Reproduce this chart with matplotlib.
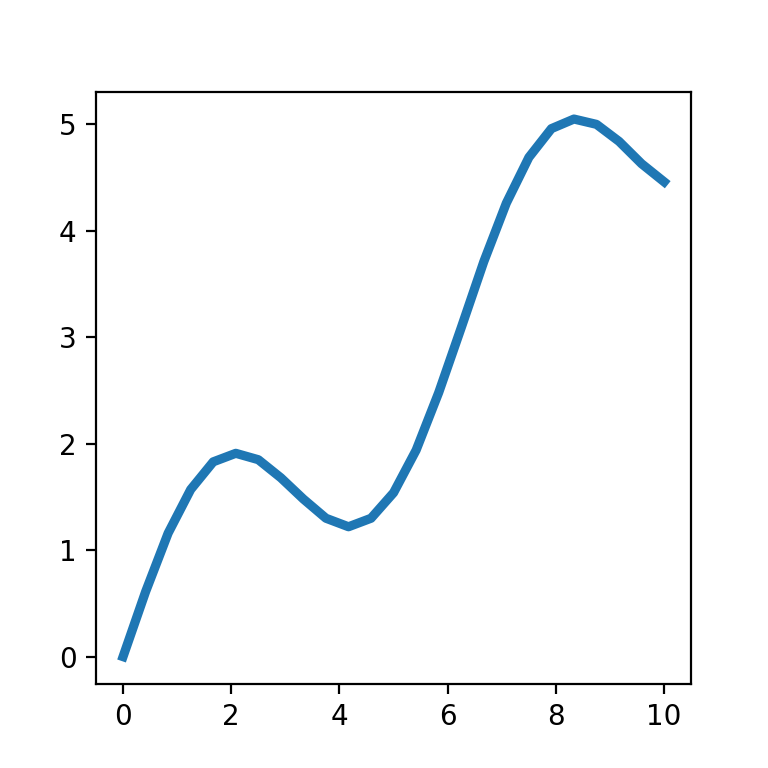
import numpy as np
import matplotlib
matplotlib.use("Agg")
import matplotlib.pyplot as plt

# values
x = np.linspace(0, 10, 25)
y = [0.0, 0.61, 1.16, 1.57, 1.83, 1.91, 1.85, 1.68, 1.48, 1.30,
     1.22, 1.30, 1.54, 1.94, 2.48, 3.09, 3.71, 4.26, 4.69, 4.96,
     5.05, 5.00, 4.84, 4.63, 4.46]

fig, ax = plt.subplots(figsize=(3.84, 3.84), dpi=200)
ax.plot(x, y, linewidth=3.3)

fig.savefig("out.png", dpi=200)
